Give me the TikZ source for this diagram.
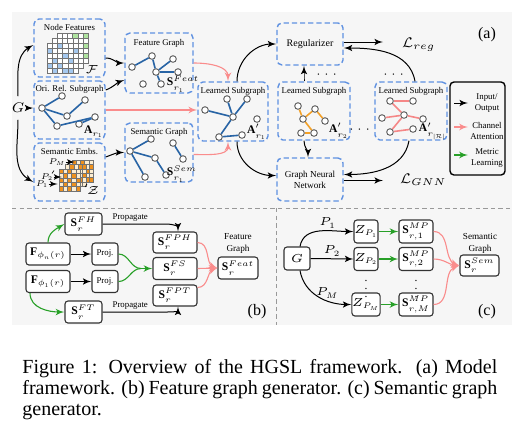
\RequirePackage{fix-cm}
\documentclass[tikz,border=0pt]{standalone}
\usepackage{amsmath}
\usepackage{fontspec}
\setmainfont{Liberation Serif}
\usepackage{tikz}
\usetikzlibrary{arrows,calc}

\definecolor{dblue}{RGB}{95,145,225}
\definecolor{eblue}{RGB}{40,100,165}
\definecolor{eorange}{RGB}{242,160,40}
\definecolor{epink}{RGB}{245,135,135}
\definecolor{apink}{RGB}{250,140,140}
\definecolor{agreen}{RGB}{40,160,40}
\definecolor{cblue}{RGB}{165,200,238}
\definecolor{cgreen}{RGB}{175,228,160}
\definecolor{corange}{RGB}{238,145,30}
\definecolor{ccream}{RGB}{253,238,210}
\definecolor{bggray}{RGB}{246,246,246}

% one layer of a stacked matrix
\newcommand{\cellgrid}[9]{%
  \fill[#7] (#1,#2) rectangle ({#1+(#3+1)*#5},{#2+(#4+1)*#6});
  \foreach \cx/\ry in {#8}
    \fill[#9] ({#1+\cx*#5},{#2+\ry*#6}) rectangle ++(#5,#6);
  \foreach \cx in {0,...,#3}
    \foreach \ry in {0,...,#4}
      \draw[gridline] ({#1+\cx*#5},{#2+\ry*#6}) rectangle ++(#5,#6);
}

\begin{document}
\begin{tikzpicture}[x=0.5pt,y=-0.5pt]
    \tikzset{
      dbox/.style={draw=dblue, line width=0.7pt, dash pattern=on 2.6pt off 1.5pt, rounded corners=2.5pt, inner sep=0pt},
      sbox/.style={draw=black!80, line width=0.55pt, fill=white, rounded corners=1.5pt, inner sep=0pt, minimum height=11pt, font=\fontsize{5.8}{6.5}\selectfont},
      gn/.style={circle, draw=black!65, fill=white, line width=0.45pt, inner sep=0pt, minimum size=3.3pt},
      bedge/.style={draw=eblue, line width=0.8pt},
      oedge/.style={draw=eorange, line width=0.8pt},
      pedge/.style={draw=epink, line width=0.8pt},
      line/.style={draw, line width=0.5pt, -latex'},
      pline/.style={draw=apink, line width=0.55pt, -latex'},
      gline/.style={draw=agreen, line width=0.55pt, -latex'},
      ttl/.style={font=\fontsize{4.4}{5.5}\selectfont, inner sep=0pt, align=center},
      mth/.style={font=\fontsize{5.8}{6.5}\selectfont, inner sep=0pt},
      lbl/.style={font=\fontsize{8}{9}\selectfont, inner sep=0pt},
      gridline/.style={draw=black!55, line width=0.25pt},
      divider/.style={draw=black!40, line width=0.5pt, dash pattern=on 2.2pt off 1.6pt}
    }
    \useasboundingbox (0,0) rectangle (519,420);
    \fill[bggray] (12,12) rectangle (512,325);
    \draw[divider] (12,208) -- (512,208);
    \draw[divider] (276,208) -- (276,325);

    % (a) model framework
    \node[dbox, minimum width=35.5pt, minimum height=29pt] (nf) at (69.5,48) {};
    \node[dbox, minimum width=35.5pt, minimum height=29pt] (ors) at (69.5,110) {};
    \node[dbox, minimum width=35.5pt, minimum height=29pt] (se) at (69.5,172) {};
    \node[dbox, minimum width=34pt, minimum height=30pt] (fg) at (159,63) {};
    \node[dbox, minimum width=34pt, minimum height=29.5pt] (sg) at (159,152.5) {};
    \node[dbox, minimum width=35pt, minimum height=29.5pt] (ls1) at (233,111.5) {};
    \node[dbox, minimum width=36pt, minimum height=29pt] (ls2) at (314,111) {};
    \node[dbox, minimum width=36pt, minimum height=29pt] (ls3) at (411,111) {};
    \node[dbox, minimum width=33pt, minimum height=21pt, font=\fontsize{5}{6}\selectfont] (reg) at (310,44) {Regularizer};
    \node[dbox, minimum width=33pt, minimum height=21.5pt, font=\fontsize{4.6}{5.6}\selectfont, align=center] (gnn) at (310,179.5) {Graph Neural\\Network};

    \node[ttl] (nft) at (69.5,27) {Node Features};
    \node[ttl] (orst) at (69.5,89) {Ori. Rel. Subgraph};
    \node[ttl] (set) at (69.5,151) {Semantic Embs.};
    \node[ttl] (fgt) at (159,43) {Feature Graph};
    \node[ttl] (sgt) at (159,132) {Semantic Graph};
    \node[ttl] (ls1t) at (233,91) {Learned Subgraph};
    \node[ttl] (ls2t) at (314,91) {Learned Subgraph};
    \node[ttl] (ls3t) at (411,91) {Learned Subgraph};

    % matrices
    \cellgrid{57}{33}{5}{5}{5.2}{5}{white}{5/0,4/1,5/2,3/0,5/4,4/3,2/1}{cgreen}
    \cellgrid{52}{38}{5}{5}{5.2}{5}{white}{0/0}{white}
    \cellgrid{47}{43}{5}{5}{5.2}{5}{white}{0/1,1/3,2/0,2/4,3/2,4/5,5/1,1/5,4/3,0/4,3/5}{cblue}
    \cellgrid{72}{160}{4}{4}{4.2}{4.4}{ccream}{0/0,1/1,2/0,3/2,4/1,2/3,4/4,0/3,3/4,1/2}{corange}
    \cellgrid{65.5}{164.5}{4}{4}{4.2}{4.4}{ccream}{1/0,3/0,0/2,2/1,4/2,1/3,3/3,2/4,4/0}{corange}
    \cellgrid{59}{169}{4}{4}{4.2}{4.4}{ccream}{0/0,2/0,1/1,3/1,0/2,2/2,4/2,1/3,3/3,0/4,2/4,4/4}{corange}

    \node[ttl, font=\fontsize{4.2}{5}\selectfont] (pmt) at (57,162) {$P_M$};
    \node[ttl, font=\fontsize{4.2}{5}\selectfont] (p2t) at (47,177) {$P_2$};
    \node[ttl, font=\fontsize{4.2}{5}\selectfont] (p1t) at (42,184) {$P_1$};
    \path[line, line width=0.35pt] (pmt.east) -- ++(4.5pt,0);
    \path[line, line width=0.35pt] (p2t.east) -- ++(4pt,0);
    \path[line, line width=0.35pt] (p1t.east) -- ++(4.5pt,0);
    \draw[line width=0.3pt] (52,173.5) -- (54,170.5);
    \draw[line width=0.3pt] (85,187) -- (87,184);

    % small graphs
    \foreach \n/\x/\y in {a1/42/108, a2/62/96, a3/85/100, a4/67/116, a5/95/117, a6/57/126, a7/79/124,
                          f1/132/67, f2/152/56, f3/156/72, f4/173/59, f5/178/72, f6/143/84, f7/161/84,
                          s1/130/151, s2/151/139, s3/155/158, s4/145/177, s5/166/175, s6/173/143, s7/183/159,
                          l1/227/99, l2/205/110, l3/233/117, l4/247/99, l5/257/119, l6/219/137, l7/242/135,
                          m1/298/106, m2/315/109, m3/325/121, m4/303/119, m5/301/133, m6/314/133,
                          p1/390/101, p2/413/101, p3/404/115, p4/382/118, p5/423/119, p6/390/132, p7/413/129}
      \node[gn] (\n) at (\x,\y) {};
    \foreach \s/\t in {a1/a2, a1/a4, a4/a3, a1/a6, a6/a5, a7/a5,
                       f1/f2, f2/f3, f3/f4, f3/f5, f3/f7,
                       s1/s2, s1/s3, s1/s4, s3/s5, s6/s7,
                       l3/l1, l3/l2, l3/l4, l3/l6, l6/l7}
      \draw[bedge] (\s) -- (\t);
    \foreach \s/\t in {m1/m4, m4/m2, m2/m3, m4/m6, m5/m6}
      \draw[oedge] (\s) -- (\t);
    \foreach \s/\t in {p1/p2, p1/p3, p3/p4, p3/p5, p3/p6, p6/p7}
      \draw[pedge] (\s) -- (\t);

    \node[mth] (fF) at (92,70) {$\mathcal{F}$};
    \node[mth] (ar1) at (94,132) {$\mathbf{A}_{r_1}$};
    \node[mth] (zZ) at (93,191) {$\mathcal{Z}$};
    \node[mth] (sfr1) at (183,84) {$\mathbf{S}^{Feat}_{r_1}$};
    \node[mth] (ssr1) at (182,174) {$\mathbf{S}^{Sem}_{r_1}$};
    \node[mth] (la1) at (257,132) {$\mathbf{A}'_{r_1}$};
    \node[mth] (la2) at (339,131) {$\mathbf{A}'_{r_2}$};
    \node[mth] (la3) at (433,131) {$\mathbf{A}'_{r_{|\mathcal{R}|}}$};
    \node[mth] (d1) at (328,75) {$\cdots$};
    \node[mth] (d2) at (395,75) {$\cdots$};
    \node[mth] (d3) at (361,130) {$\cdots$};

    \node[font=\fontsize{7}{8}\selectfont, anchor=west] (lreg) at (395,45) {$\mathcal{L}_{reg}$};
    \node[font=\fontsize{7}{8}\selectfont, anchor=west] (lgnn) at (393,180) {$\mathcal{L}_{GNN}$};
    \node[lbl] (pa) at (487,35) {(a)};
    \node[font=\fontsize{7}{8}\selectfont] (g) at (18,108) {$G$};

    \path[line] (g.east) -- (g.east -| ors.west);
    \path[line] (g.north) to[out=90,in=210] ([yshift=1.5pt]nf.west);
    \path[line] (g.south) to[out=-90,in=150] ([yshift=-5pt]se.west);
    \path[line] ([yshift=-5pt]nf.east) to[out=0,in=180] (fg.west);
    \path[line] ([yshift=10pt]ors.east) to[out=20,in=200] ([yshift=-8.5pt]fg.west);
    \path[line] ([yshift=7.5pt]se.east) to[out=20,in=180] (sg.west);
    \path[pline] (ors.east) -- (ors.east -| ls1.west);
    \path[pline] (fg.east) to[out=0,in=90] ([xshift=-2.5pt]ls1.north);
    \path[pline] ([yshift=-1pt]sg.east) to[out=0,in=-90] ([xshift=-2.5pt]ls1.south);
    \path[line] ([xshift=2pt]ls1.north) to[out=90,in=180] (reg.west);
    \path[line] ([xshift=2pt]ls1.south) to[out=-90,in=180] ([yshift=2pt]gnn.west);
    \path[line] ([xshift=-5pt]ls2.north) to[out=90,in=-90] ([xshift=-3pt]reg.south);
    \path[line] ([xshift=2pt]ls3.north) to[out=100,in=0] ([yshift=-2pt]reg.east);
    \path[line] ([xshift=-5pt]ls2.south) to[out=-90,in=90] ([xshift=-1pt]gnn.north);
    \path[line] ([xshift=-1pt]ls3.south) to[out=-100,in=0] ([yshift=2.5pt]gnn.east);
    \path[line] ([yshift=1pt]reg.east) -- ($(lreg.west |- reg.east)+(-6pt,1pt)$);
    \path[line] ([yshift=-0.5pt]gnn.east) -- ($(lgnn.west |- gnn.east)+(-5pt,-0.5pt)$);

    % legend
    \node[draw, line width=0.7pt, rounded corners=2pt, minimum width=27.5pt, minimum height=46.5pt, inner sep=0pt] (leg) at (477.5,128.5) {};
    \node[ttl] (k1) at (487,103.5) {Input/\\Output};
    \node[ttl] (k2) at (487,130.5) {Channel\\Attention};
    \node[ttl] (k3) at (487,158) {Metric\\Learning};
    \path[line] (454,103) -- (468,103);
    \path[pline] (454,127) -- (468,127);
    \path[gline] (454,155) -- (468,155);

    % (b) feature graph generator
    \node[sbox, minimum width=18.5pt] (sfh) at (83.5,224) {$\mathbf{S}_r^{FH}$};
    \node[sbox, minimum width=22pt] (fpn) at (48,254) {$\mathbf{F}_{\phi_n(r)}$};
    \node[sbox, minimum width=22pt] (fp1) at (48,281.5) {$\mathbf{F}_{\phi_1(r)}$};
    \node[sbox, minimum width=13pt, font=\fontsize{4.4}{5}\selectfont] (pj1) at (105,254) {Proj.};
    \node[sbox, minimum width=13pt, font=\fontsize{4.4}{5}\selectfont] (pj2) at (105,281.5) {Proj.};
    \node[sbox, minimum width=18.5pt] (sft) at (83.5,312) {$\mathbf{S}_r^{FT}$};
    \node[sbox, minimum width=22pt, minimum height=10.5pt] (sfph) at (175,242.5) {$\mathbf{S}_r^{FPH}$};
    \node[sbox, minimum width=22pt] (sfs) at (175,268.5) {$\mathbf{S}_r^{FS}$};
    \node[sbox, minimum width=22pt, minimum height=10.5pt] (sfpt) at (175,295.5) {$\mathbf{S}_r^{FPT}$};
    \node[sbox, minimum width=20pt] (sfeat) at (238,268) {$\mathbf{S}_r^{Feat}$};
    \node[ttl, font=\fontsize{4.6}{6.3}\selectfont] (fgl) at (238,243.5) {Feature\\Graph};
    \node[lbl] (pb) at (257,312) {(b)};

    \path[line] (fpn) -- (pj1);
    \path[line] (fp1) -- (pj2);
    \path[gline] (fpn.north) to[out=90,in=-150] (sfh.west);
    \path[gline] ([xshift=-9pt]fp1.south) to[out=-90,in=180] (sft.west);
    \coordinate (mj) at (141,268.5);
    \draw[agreen, line width=0.55pt] (pj1.east) to[out=0,in=180] (mj);
    \draw[agreen, line width=0.55pt] (pj2.east) to[out=0,in=180] (mj);
    \path[gline] (mj) -- (sfs.west);
    \path[line] (sfh.east) -- node[ttl, above=1pt, pos=0.43] (pg1) {Propagate} ($(sfph.north |- sfh.east)+(-4pt,0)$) to[out=0,in=90] ([xshift=1.5pt]sfph.north);
    \path[line] (sft.east) -- node[ttl, above=1pt, pos=0.43] (pg2) {Propagate} ($(sfpt.south |- sft.east)+(-4pt,0)$) to[out=0,in=-90] ([xshift=1.5pt]sfpt.south);
    \path[pline] (sfph.east) to[out=0,in=160] (sfeat.west);
    \path[pline] (sfs.east) -- (sfeat.west);
    \path[pline] ([yshift=4pt]sfpt.east) to[out=0,in=200] (sfeat.west);

    % (c) semantic graph generator
    \node[sbox, minimum width=13pt, minimum height=11.5pt] (gc) at (297,258.5) {$G$};
    \node[sbox, minimum width=12pt, minimum height=11.5pt] (zp1) at (366,231.5) {$Z_{P_1}$};
    \node[sbox, minimum width=12pt, minimum height=11.5pt] (zp2) at (366,259) {$Z_{P_2}$};
    \node[sbox, minimum width=12pt, minimum height=11.5pt] (zpm) at (366,304.5) {$Z_{P_M}$};
    \node[sbox, minimum width=17pt, minimum height=11.5pt] (smp1) at (416,231.5) {$\mathbf{S}^{MP}_{r,1}$};
    \node[sbox, minimum width=17pt, minimum height=11.5pt] (smp2) at (416,259) {$\mathbf{S}^{MP}_{r,2}$};
    \node[sbox, minimum width=17pt, minimum height=11.5pt] (smpm) at (416,304.5) {$\mathbf{S}^{MP}_{r,M}$};
    \node[sbox, minimum width=19.5pt, minimum height=10.5pt] (ssem) at (479.5,265.5) {$\mathbf{S}^{Sem}_r$};
    \node[mth] (vz) at (366,283) {$\vdots$};
    \node[mth] (vs) at (416,283) {$\vdots$};
    \node[ttl, font=\fontsize{4.6}{6}\selectfont] (sgl) at (480,243.5) {Semantic\\Graph};
    \node[lbl] (pc) at (487,312) {(c)};

    \path[line] ([xshift=1.5pt]gc.north) to[out=80,in=180] node[mth, above=1pt, pos=0.62] (lp1) {$P_1$} (zp1.west);
    \path[line] (gc.east) -- node[mth, above=1pt] (lp2) {$P_2$} (zp2.west);
    \path[line] ([xshift=1.5pt]gc.south) to[out=-80,in=180] node[mth, above=1pt, pos=0.65] (lpm) {$P_M$} (zpm.west);
    \foreach \s/\t in {zp1/smp1, zp2/smp2, zpm/smpm}
      \path[gline] (\s) -- (\t);
    \path[pline] (smp1.east) to[out=0,in=160] (ssem.west);
    \path[pline] (smp2.east) to[out=0,in=175] (ssem.west);
    \path[pline] (smpm.east) to[out=0,in=200] (ssem.west);

    % caption
    \node[anchor=north west, inner sep=0pt, text width=237.5pt, align=justify, font=\fontsize{10}{10.6}\selectfont] (cap) at (22,359) {Figure 1: Overview of the HGSL framework. (a) Model framework. (b) Feature graph generator. (c) Semantic graph generator.};
\end{tikzpicture}
\end{document}
